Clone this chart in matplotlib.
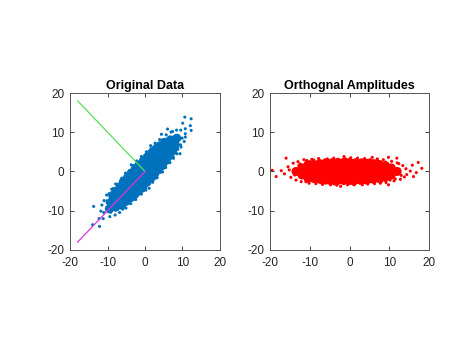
import numpy as np
import matplotlib
matplotlib.use("Agg")
import matplotlib.pyplot as plt

plt.rcParams['font.family'] = ['Liberation Sans', 'DejaVu Sans']
plt.rcParams['axes.unicode_minus'] = False

# ---- data (amplitudes along principal directions) ----
core_a1 = [-13.5,
           -12, -12,
           -10.5, -10.5, -10.5, -10.5,
           -9, -9, -9, -9,
           -7.5, -7.5, -7.5, -7.5,
           -6, -6, -6, -6,
           -4.5, -4.5, -4.5, -4.5,
           -3, -3, -3, -3,
           -1.5, -1.5, -1.5, -1.5,
           0, 0, 0, 0,
           1.5, 1.5, 1.5, 1.5,
           3, 3, 3, 3,
           4.5, 4.5, 4.5, 4.5,
           6, 6, 6, 6,
           7.5, 7.5, 7.5, 7.5,
           9, 9, 9, 9,
           10.5, 10.5,
           12]
core_a2 = [0,
           -0.9, 0.9,
           -1.7, -0.6, 0.6, 1.7,
           -1.8, -0.6, 0.6, 1.8,
           -2.0, -0.7, 0.7, 2.0,
           -2.2, -0.75, 0.75, 2.2,
           -2.2, -0.75, 0.75, 2.2,
           -2.3, -0.75, 0.75, 2.3,
           -2.3, -0.75, 0.75, 2.3,
           -2.3, -0.75, 0.75, 2.3,
           -2.2, -0.75, 0.75, 2.2,
           -2.2, -0.75, 0.75, 2.2,
           -2.1, -0.7, 0.7, 2.1,
           -2.0, -0.7, 0.7, 2.0,
           -1.8, -0.6, 0.6, 1.8,
           -1.5, -0.5, 0.5, 1.5,
           -0.9, 0.9,
           0]

edge_a1 = [-18.5, -16.0, -16.4, -15.2, -15.5, -14.8, -14.2, -13.5, -13.0, -12.2,
           -11.5, -10.2, -10.8, -9.5, -8.5, -7.8, -6.8, -5.6, -4.75, -4.0,
           -3.2, -2.25, -1.4, -0.5, 0.3, 1.2, 2.0, 3.2, 3.8, 4.6,
           5.7, 6.3, 7.0, 7.75, 8.5, 9.2, 9.8, 9.8, 10.6, 11.2,
           11.9, 12.4, 12.8, 13.4, 13.8, 14.4, 14.2, 15.3, 16.1, 15.8,
           17.3, 18.2, 16.8, -17.2, -14.0, -13.8, -12.8, -19.5, -11.0, -9.0,
           -7.0, -5.0, -2.8, 0.8, 2.6, 5.2, 8.0, 10.2, 12.0, 13.0,
           -12.5, -10.0, -6.2, -3.8, -1.0, 1.8, 4.0, 6.8, 9.0, 11.5]
edge_a2 = [-1.3, 3.4, -0.6, 0.4, 1.2, -1.5, 2.1, -2.2, 2.5, -2.6,
           3.0, -3.0, 2.8, 3.1, -3.1, 3.3, -3.3, 3.2, -3.4, 3.4,
           -3.5, -3.8, 3.8, -3.4, 3.5, -3.4, 3.4, -3.4, 3.3, -3.2,
           3.6, -3.1, 3.2, -3.0, 3.0, -2.8, 3.6, -3.4, 2.6, -2.4,
           3.4, 2.0, -2.0, 1.5, -1.4, -0.8, 0.7, 0.1, -1.3, 1.6,
           2.3, 0.8, -0.3, 0.2, 0.3, -0.9, 1.5, 0.3, -2.6, 2.9,
           -3.0, -3.1, 3.1, -3.2, -3.0, 3.0, -2.6, -2.2, 2.2, -1.0,
           1.9, 2.5, 2.9, -3.2, 3.2, 3.1, -2.9, 2.8, 2.4, -1.9]

pc1 = [0.7071, 0.7071]
pc2 = [-0.7071, 0.7071]

green_x = [-18, 0]
green_y = [18, 0]
magenta_x = [-18, 0]
magenta_y = [-18, 0]

ticks = [-20, -10, 0, 10, 20]

# ---- derived ----
core_a1 = np.array(core_a1); core_a2 = np.array(core_a2)
edge_a1 = np.array(edge_a1); edge_a2 = np.array(edge_a2)
core_x = core_a1 * pc1[0] + core_a2 * pc2[0]
core_y = core_a1 * pc1[1] + core_a2 * pc2[1]
edge_x = edge_a1 * pc1[0] + edge_a2 * pc2[0]
edge_y = edge_a1 * pc1[1] + edge_a2 * pc2[1]

fig = plt.figure(figsize=(4.74, 3.55), dpi=100)
ax1 = fig.add_axes([0.148, 0.296, 0.316, 0.442])
ax2 = fig.add_axes([0.570, 0.296, 0.335, 0.442])

blue = '#0072BD'
red = '#FF0000'

ax1.scatter(core_x, core_y, s=42, c=blue, edgecolors='none')
ax1.scatter(edge_x, edge_y, s=5, c=blue, edgecolors='none')
ax1.plot(green_x, green_y, color='#55e055', lw=0.9)
ax1.plot(magenta_x, magenta_y, color='#dd33dd', lw=0.9)

ax2.scatter(core_a1, core_a2, s=42, c=red, edgecolors='none')
ax2.scatter(edge_a1, edge_a2, s=5, c=red, edgecolors='none')

for ax, title in ((ax1, 'Original Data'), (ax2, 'Orthognal Amplitudes')):
    ax.set_xlim(-20, 20)
    ax.set_ylim(-20, 20)
    ax.set_xticks(ticks)
    ax.set_yticks(ticks)
    ax.tick_params(direction='in', top=True, right=True, length=3, width=0.6,
                   labelsize=8.5, colors='#262626')
    ax.tick_params(axis='x', pad=5)
    ax.tick_params(axis='y', pad=4)
    for sp in ax.spines.values():
        sp.set_color('#555555')
        sp.set_linewidth(0.7)
    ax.set_title(title, fontsize=9, fontweight='bold', color='black', pad=3)

fig.savefig('out.png', dpi=100)
